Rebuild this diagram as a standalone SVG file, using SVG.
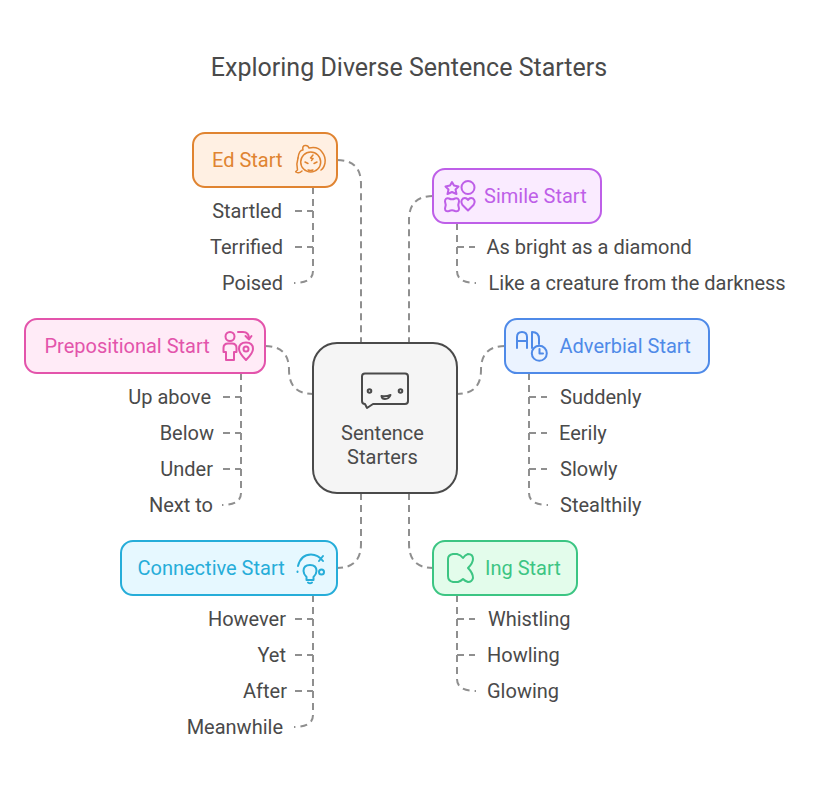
<svg xmlns="http://www.w3.org/2000/svg" width="818" height="788" viewBox="0 0 818 788">
<style>
text{font-family:Roboto,"Liberation Sans",sans-serif;font-size:20px;fill:#4a4a4a}
.t{font-size:25px;text-anchor:middle}
.e{text-anchor:end}.m{text-anchor:middle}
.c{fill:none;stroke:#8f8f8f;stroke-width:2;stroke-dasharray:7 5}
.n{stroke-width:2}
.i{fill:none;stroke-width:2;stroke-linecap:round;stroke-linejoin:round}
</style>
<rect width="818" height="788" fill="#fff"/>
<text class="t" x="409" y="76">Exploring Diverse Sentence Starters</text>
<g id="connectors">
<path class="c" d="M337 160Q361 160 361 184V343"/>
<path class="c" d="M433 196Q409 196 409 220V343"/>
<path class="c" d="M265 346Q289 346 289 370Q289 394 313 394"/>
<path class="c" d="M505 346Q481 346 481 370Q481 394 457 394"/>
<path class="c" d="M361 493V544Q361 568 337 568"/>
<path class="c" d="M409 493V544Q409 568 433 568"/>
<path class="c" d="M313 187V271Q313 283 294 283"/>
<path class="c" d="M295 211H313M295 247H313"/>
<path class="c" d="M457 223V271Q457 283 476 283"/>
<path class="c" d="M457 247H475"/>
<path class="c" d="M241 373V493Q241 505 222 505"/>
<path class="c" d="M223 397H241M223 433H241M223 469H241"/>
<path class="c" d="M529 373V493Q529 505 548 505"/>
<path class="c" d="M529 397H547M529 433H547M529 469H547"/>
<path class="c" d="M313 595V715Q313 727 294 727"/>
<path class="c" d="M295 619H313M295 655H313M295 691H313"/>
<path class="c" d="M457 595V679Q457 691 476 691"/>
<path class="c" d="M457 619H475M457 655H475"/>
</g>
<g id="center">
<rect x="313" y="343" width="144" height="150" rx="24" fill="#f5f5f5" stroke="#4a4a4a" stroke-width="2"/>
<g class="i" stroke="#4a4a4a">
<path d="M365 373.500H405Q408 373.500 408 376.500V401Q408 404 405 404H373L367 408L365 404Q362 404 362 401V376.500Q362 373.500 365 373.500Z"/>
<circle cx="369.500" cy="391" r="1.800"/><circle cx="400.500" cy="391" r="1.800"/>
<path d="M381.500 396Q386 397 390.500 395Q389 399 385 399Q382 399 381.500 396Z"/>
</g>
<text class="m" x="382.500" y="440">Sentence</text>
<text class="m" x="382.500" y="464">Starters</text>
</g>
<g id="ed-start">
<rect class="n" x="193" y="133" width="144" height="54" rx="12" fill="#fff0e3" stroke="#e08431"/>
<text x="212" y="167" style="fill:#e08431">Ed Start</text>
<g class="i" stroke="#e08431" style="stroke-width:1.500">
<circle cx="310.700" cy="162" r="10"/>
<path d="M298 158Q299 150 303 150Q302 146 305 145.500Q308 145 309 148Q318 146 322 152Q326 157 325 163Q324 168 321 170"/>
<path d="M298 158Q296 164 297.500 170Q295 172 296 172Q299 174 302 171"/>
<path d="M305 162L308 163.500M317 162L314 163.500M313 155L310.500 158L313 158.500L311.500 160.500M308 170Q310.500 171 313 170"/>
</g>
</g>
<g id="simile-start">
<rect class="n" x="433" y="169" width="168" height="54" rx="12" fill="#faebff" stroke="#be5fe8"/>
<text x="484" y="203" style="fill:#be5fe8">Simile Start</text>
<g class="i" stroke="#be5fe8">
<path d="M452 182L454 185.500L458.500 186.500L455.500 189.500L456.500 194L452 192L447.500 194L448.500 189.500L445.500 186.500L450 185.500Z"/>
<circle cx="468" cy="187.500" r="6.500"/>
<path d="M449 198.500Q452 200 455 198.500Q459 197.500 459 201.500Q457.500 205 459 208.500Q459 212 455 211Q452 209.500 449 211Q445 212 445 208.500Q446.500 205 445 201.500Q445 197.500 449 198.500Z"/>
<path d="M468 210.500L462.500 205Q460 201 463 198.500Q466 197 468 200Q470 197 473 198.500Q476 201 473.500 205Z"/>
</g>
</g>
<g id="prepositional-start">
<rect class="n" x="25" y="319" width="240" height="54" rx="12" fill="#ffebf7" stroke="#e354ab"/>
<text x="44.500" y="353" style="fill:#e354ab">Prepositional Start</text>
<g class="i" stroke="#e354ab">
<circle cx="230" cy="336.500" r="4.500"/>
<path d="M226 360V352H223.500V348Q223.500 343.500 228 343.500H232Q236.500 343.500 236.500 348V352H234V360Z"/>
<path d="M238 332H243Q249 332 249 338.500M245.500 336L249 339.500L251.500 336"/>
<path d="M246 360Q239 353 239 349Q239 342.500 246 342.500Q253 342.500 253 349Q253 353 246 360Z"/>
<circle cx="246" cy="349" r="2.500"/>
</g>
</g>
<g id="adverbial-start">
<rect class="n" x="505" y="319" width="204" height="54" rx="12" fill="#ebf3ff" stroke="#4f8ae8"/>
<text x="559.500" y="353" style="fill:#4f8ae8">Adverbial Start</text>
<g class="i" stroke="#4f8ae8">
<path d="M517 348V337Q517 332 522 332Q527 332 527 337V348M517 341H527"/>
<path d="M532 348V332Q539 332 539 339V344"/>
<circle cx="539.300" cy="353.300" r="7.500"/>
<path d="M539.500 349V353.500H543"/>
</g>
</g>
<g id="connective-start">
<rect class="n" x="121" y="541" width="216" height="54" rx="12" fill="#e6f8ff" stroke="#26add9"/>
<text x="137.500" y="575" style="fill:#26add9">Connective Start</text>
<g class="i" stroke="#26add9">
<path d="M297.500 572V571.500M298 566Q301 554.500 311 554.500Q318 554.500 323 561M323 556L319 561"/>
<path d="M306.500 577Q303.500 574 303.500 571Q303.500 565 310 565Q316.500 565 316.500 571Q316.500 574 313.500 577V580H306.500Z"/>
<path d="M308 582.500Q310 584 312 582.500"/>
<circle cx="321.500" cy="572" r="2.500"/>
</g>
</g>
<g id="ing-start">
<rect class="n" x="433" y="541" width="144" height="54" rx="12" fill="#e3fceb" stroke="#3cc583"/>
<text x="485" y="575" style="fill:#3cc583">Ing Start</text>
<path class="i" stroke="#3cc583" d="M453 554H457Q461 555 463 558Q465 555 468 554Q473 554 473 559Q473 563 468 568Q473 573 473 578Q472 582 468 582Q465 581 463 579Q461 581 458 582H453Q448 581 448 576V559Q448 555 453 554Z"/>
</g>
<g id="ed-items">
<text class="e" x="282" y="218">Startled</text>
<text class="e" x="283" y="254">Terrified</text>
<text class="e" x="283" y="290">Poised</text>
</g>
<g id="simile-items">
<text x="486.500" y="254">As bright as a diamond</text>
<text x="488.500" y="290">Like a creature from the darkness</text>
</g>
<g id="prepositional-items">
<text class="e" x="211" y="404">Up above</text>
<text class="e" x="214" y="440">Below</text>
<text class="e" x="213" y="476">Under</text>
<text class="e" x="213" y="512">Next to</text>
</g>
<g id="adverbial-items">
<text x="560" y="404">Suddenly</text>
<text x="559" y="440">Eerily</text>
<text x="560" y="476">Slowly</text>
<text x="560" y="512">Stealthily</text>
</g>
<g id="connective-items">
<text class="e" x="286" y="626">However</text>
<text class="e" x="286" y="662">Yet</text>
<text class="e" x="287" y="698">After</text>
<text class="e" x="283" y="734">Meanwhile</text>
</g>
<g id="ing-items">
<text x="488" y="626">Whistling</text>
<text x="487" y="662">Howling</text>
<text x="487" y="698">Glowing</text>
</g>
</svg>
